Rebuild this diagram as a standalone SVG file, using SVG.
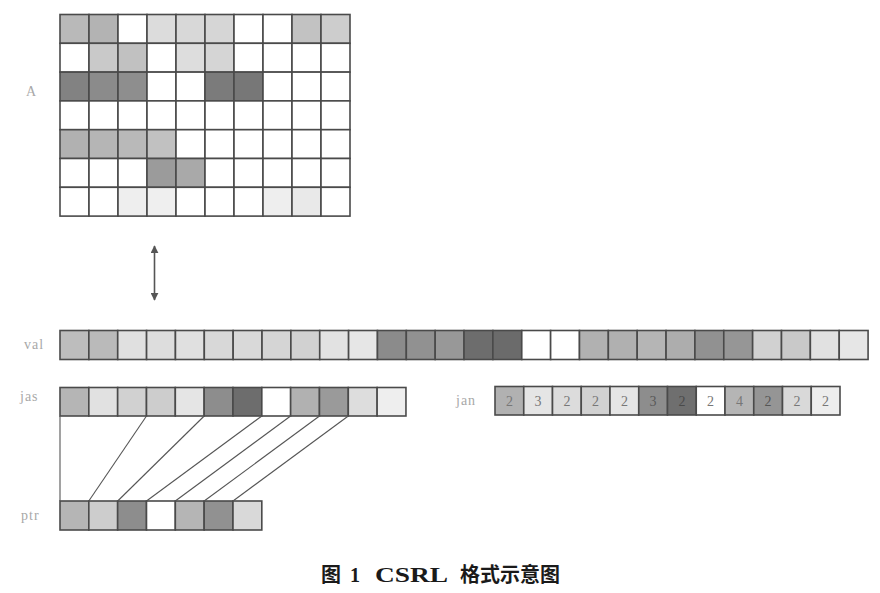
<svg xmlns="http://www.w3.org/2000/svg" width="880" height="593" viewBox="0 0 880 593">
<style>
.c{stroke:#4a4a4a;stroke-width:1.6}
.lbl{font-family:"Liberation Serif",serif;font-size:14px;fill:#a8a8a8;letter-spacing:1px}
.num{font-family:"Liberation Serif",serif;font-size:14px;fill:#777;text-anchor:middle}
.con{stroke:#555;stroke-width:1.1;fill:none}
.cap{font-family:"Liberation Serif","Noto Sans CJK SC",serif;font-size:20px;font-weight:bold;fill:#1a1a1a}
</style>
<defs>
<marker id="ah" viewBox="0 0 10 10" refX="9" refY="5" markerWidth="8" markerHeight="8" markerUnits="userSpaceOnUse" orient="auto-start-reverse">
<path d="M0,0 L10,5 L0,10 z" fill="#555"/>
</marker>
</defs>
<rect width="880" height="593" fill="#fff"/>

<g id="matrixA">
<text class="lbl" x="26" y="96" font-size="12">A</text>
<!-- row 0 -->
<rect class="c" x="60" y="14.5" width="29" height="28.8" fill="#b9b9b9"/>
<rect class="c" x="89" y="14.5" width="29" height="28.8" fill="#b3b3b3"/>
<rect class="c" x="118" y="14.5" width="29" height="28.8" fill="#fff"/>
<rect class="c" x="147" y="14.5" width="29" height="28.8" fill="#dcdcdc"/>
<rect class="c" x="176" y="14.5" width="29" height="28.8" fill="#d8d8d8"/>
<rect class="c" x="205" y="14.5" width="29" height="28.8" fill="#d6d6d6"/>
<rect class="c" x="234" y="14.5" width="29" height="28.8" fill="#fff"/>
<rect class="c" x="263" y="14.5" width="29" height="28.8" fill="#fff"/>
<rect class="c" x="292" y="14.5" width="29" height="28.8" fill="#c2c2c2"/>
<rect class="c" x="321" y="14.5" width="29" height="28.8" fill="#cdcdcd"/>
<!-- row 1 -->
<rect class="c" x="60" y="43.3" width="29" height="28.8" fill="#fff"/>
<rect class="c" x="89" y="43.3" width="29" height="28.8" fill="#c9c9c9"/>
<rect class="c" x="118" y="43.3" width="29" height="28.8" fill="#c1c1c1"/>
<rect class="c" x="147" y="43.3" width="29" height="28.8" fill="#fff"/>
<rect class="c" x="176" y="43.3" width="29" height="28.8" fill="#dddddd"/>
<rect class="c" x="205" y="43.3" width="29" height="28.8" fill="#d5d5d5"/>
<rect class="c" x="234" y="43.3" width="29" height="28.8" fill="#fff"/>
<rect class="c" x="263" y="43.3" width="29" height="28.8" fill="#fff"/>
<rect class="c" x="292" y="43.3" width="29" height="28.8" fill="#fff"/>
<rect class="c" x="321" y="43.3" width="29" height="28.8" fill="#fff"/>
<!-- row 2 -->
<rect class="c" x="60" y="72.1" width="29" height="28.8" fill="#828282"/>
<rect class="c" x="89" y="72.1" width="29" height="28.8" fill="#8b8b8b"/>
<rect class="c" x="118" y="72.1" width="29" height="28.8" fill="#8e8e8e"/>
<rect class="c" x="147" y="72.1" width="29" height="28.8" fill="#fff"/>
<rect class="c" x="176" y="72.1" width="29" height="28.8" fill="#fff"/>
<rect class="c" x="205" y="72.1" width="29" height="28.8" fill="#7b7b7b"/>
<rect class="c" x="234" y="72.1" width="29" height="28.8" fill="#777"/>
<rect class="c" x="263" y="72.1" width="29" height="28.8" fill="#fff"/>
<rect class="c" x="292" y="72.1" width="29" height="28.8" fill="#fff"/>
<rect class="c" x="321" y="72.1" width="29" height="28.8" fill="#fff"/>
<!-- row 3 -->
<rect class="c" x="60" y="100.9" width="29" height="28.8" fill="#fff"/>
<rect class="c" x="89" y="100.9" width="29" height="28.8" fill="#fff"/>
<rect class="c" x="118" y="100.9" width="29" height="28.8" fill="#fff"/>
<rect class="c" x="147" y="100.9" width="29" height="28.8" fill="#fff"/>
<rect class="c" x="176" y="100.9" width="29" height="28.8" fill="#fff"/>
<rect class="c" x="205" y="100.9" width="29" height="28.8" fill="#fff"/>
<rect class="c" x="234" y="100.9" width="29" height="28.8" fill="#fff"/>
<rect class="c" x="263" y="100.9" width="29" height="28.8" fill="#fff"/>
<rect class="c" x="292" y="100.9" width="29" height="28.8" fill="#fff"/>
<rect class="c" x="321" y="100.9" width="29" height="28.8" fill="#fff"/>
<!-- row 4 -->
<rect class="c" x="60" y="129.7" width="29" height="28.8" fill="#b1b1b1"/>
<rect class="c" x="89" y="129.7" width="29" height="28.8" fill="#b5b5b5"/>
<rect class="c" x="118" y="129.7" width="29" height="28.8" fill="#b9b9b9"/>
<rect class="c" x="147" y="129.7" width="29" height="28.8" fill="#c1c1c1"/>
<rect class="c" x="176" y="129.7" width="29" height="28.8" fill="#fff"/>
<rect class="c" x="205" y="129.7" width="29" height="28.8" fill="#fff"/>
<rect class="c" x="234" y="129.7" width="29" height="28.8" fill="#fff"/>
<rect class="c" x="263" y="129.7" width="29" height="28.8" fill="#fff"/>
<rect class="c" x="292" y="129.7" width="29" height="28.8" fill="#fff"/>
<rect class="c" x="321" y="129.7" width="29" height="28.8" fill="#fff"/>
<!-- row 5 -->
<rect class="c" x="60" y="158.5" width="29" height="28.8" fill="#fff"/>
<rect class="c" x="89" y="158.5" width="29" height="28.8" fill="#fff"/>
<rect class="c" x="118" y="158.5" width="29" height="28.8" fill="#fff"/>
<rect class="c" x="147" y="158.5" width="29" height="28.8" fill="#9b9b9b"/>
<rect class="c" x="176" y="158.5" width="29" height="28.8" fill="#a9a9a9"/>
<rect class="c" x="205" y="158.5" width="29" height="28.8" fill="#fff"/>
<rect class="c" x="234" y="158.5" width="29" height="28.8" fill="#fff"/>
<rect class="c" x="263" y="158.5" width="29" height="28.8" fill="#fff"/>
<rect class="c" x="292" y="158.5" width="29" height="28.8" fill="#fff"/>
<rect class="c" x="321" y="158.5" width="29" height="28.8" fill="#fff"/>
<!-- row 6 -->
<rect class="c" x="60" y="187.3" width="29" height="28.8" fill="#fff"/>
<rect class="c" x="89" y="187.3" width="29" height="28.8" fill="#fff"/>
<rect class="c" x="118" y="187.3" width="29" height="28.8" fill="#eeeeee"/>
<rect class="c" x="147" y="187.3" width="29" height="28.8" fill="#efefef"/>
<rect class="c" x="176" y="187.3" width="29" height="28.8" fill="#fff"/>
<rect class="c" x="205" y="187.3" width="29" height="28.8" fill="#fff"/>
<rect class="c" x="234" y="187.3" width="29" height="28.8" fill="#fff"/>
<rect class="c" x="263" y="187.3" width="29" height="28.8" fill="#eeeeee"/>
<rect class="c" x="292" y="187.3" width="29" height="28.8" fill="#e9e9e9"/>
<rect class="c" x="321" y="187.3" width="29" height="28.8" fill="#fff"/>
</g>

<g id="val">
<text class="lbl" x="24" y="349">val</text>
<rect class="c" x="60" y="330.5" width="28.86" height="29" fill="#bdbdbd"/>
<rect class="c" x="88.86" y="330.5" width="28.86" height="29" fill="#bababa"/>
<rect class="c" x="117.72" y="330.5" width="28.86" height="29" fill="#e0e0e0"/>
<rect class="c" x="146.58" y="330.5" width="28.86" height="29" fill="#dddddd"/>
<rect class="c" x="175.44" y="330.5" width="28.86" height="29" fill="#e0e0e0"/>
<rect class="c" x="204.3" y="330.5" width="28.86" height="29" fill="#d8d8d8"/>
<rect class="c" x="233.16" y="330.5" width="28.86" height="29" fill="#d9d9d9"/>
<rect class="c" x="262.02" y="330.5" width="28.86" height="29" fill="#d5d5d5"/>
<rect class="c" x="290.88" y="330.5" width="28.86" height="29" fill="#d1d1d1"/>
<rect class="c" x="319.74" y="330.5" width="28.86" height="29" fill="#e2e2e2"/>
<rect class="c" x="348.6" y="330.5" width="28.86" height="29" fill="#e6e6e6"/>
<rect class="c" x="377.46" y="330.5" width="28.86" height="29" fill="#8b8b8b"/>
<rect class="c" x="406.32" y="330.5" width="28.86" height="29" fill="#919191"/>
<rect class="c" x="435.18" y="330.5" width="28.86" height="29" fill="#989898"/>
<rect class="c" x="464.04" y="330.5" width="28.86" height="29" fill="#6d6d6d"/>
<rect class="c" x="492.9" y="330.5" width="28.86" height="29" fill="#6b6b6b"/>
<rect class="c" x="521.76" y="330.5" width="28.86" height="29" fill="#fff"/>
<rect class="c" x="550.62" y="330.5" width="28.86" height="29" fill="#fff"/>
<rect class="c" x="579.48" y="330.5" width="28.86" height="29" fill="#b1b1b1"/>
<rect class="c" x="608.34" y="330.5" width="28.86" height="29" fill="#b0b0b0"/>
<rect class="c" x="637.2" y="330.5" width="28.86" height="29" fill="#b5b5b5"/>
<rect class="c" x="666.06" y="330.5" width="28.86" height="29" fill="#adadad"/>
<rect class="c" x="694.92" y="330.5" width="28.86" height="29" fill="#919191"/>
<rect class="c" x="723.78" y="330.5" width="28.86" height="29" fill="#969696"/>
<rect class="c" x="752.64" y="330.5" width="28.86" height="29" fill="#d1d1d1"/>
<rect class="c" x="781.5" y="330.5" width="28.86" height="29" fill="#c9c9c9"/>
<rect class="c" x="810.36" y="330.5" width="28.86" height="29" fill="#e1e1e1"/>
<rect class="c" x="839.22" y="330.5" width="28.86" height="29" fill="#e6e6e6"/>
</g>

<g id="jas">
<text class="lbl" x="20" y="401">jas</text>
<rect class="c" x="60" y="387.5" width="28.83" height="28.5" fill="#b5b5b5"/>
<rect class="c" x="88.83" y="387.5" width="28.83" height="28.5" fill="#e1e1e1"/>
<rect class="c" x="117.66" y="387.5" width="28.83" height="28.5" fill="#d1d1d1"/>
<rect class="c" x="146.49" y="387.5" width="28.83" height="28.5" fill="#cdcdcd"/>
<rect class="c" x="175.32" y="387.5" width="28.83" height="28.5" fill="#e5e5e5"/>
<rect class="c" x="204.15" y="387.5" width="28.83" height="28.5" fill="#8d8d8d"/>
<rect class="c" x="232.98" y="387.5" width="28.83" height="28.5" fill="#6d6d6d"/>
<rect class="c" x="261.81" y="387.5" width="28.83" height="28.5" fill="#fff"/>
<rect class="c" x="290.64" y="387.5" width="28.83" height="28.5" fill="#b1b1b1"/>
<rect class="c" x="319.47" y="387.5" width="28.83" height="28.5" fill="#9a9a9a"/>
<rect class="c" x="348.3" y="387.5" width="28.83" height="28.5" fill="#dddddd"/>
<rect class="c" x="377.13" y="387.5" width="28.83" height="28.5" fill="#eeeeee"/>
</g>

<g id="jan">
<text class="lbl" x="456" y="405">jan</text>
<rect class="c" x="495" y="386.5" width="28.75" height="28.5" fill="#b1b1b1"/>
<rect class="c" x="523.75" y="386.5" width="28.75" height="28.5" fill="#e5e5e5"/>
<rect class="c" x="552.5" y="386.5" width="28.75" height="28.5" fill="#dcdcdc"/>
<rect class="c" x="581.25" y="386.5" width="28.75" height="28.5" fill="#d1d1d1"/>
<rect class="c" x="610" y="386.5" width="28.75" height="28.5" fill="#e5e5e5"/>
<rect class="c" x="638.75" y="386.5" width="28.75" height="28.5" fill="#8d8d8d"/>
<rect class="c" x="667.5" y="386.5" width="28.75" height="28.5" fill="#6f6f6f"/>
<rect class="c" x="696.25" y="386.5" width="28.75" height="28.5" fill="#fff"/>
<rect class="c" x="725" y="386.5" width="28.75" height="28.5" fill="#b5b5b5"/>
<rect class="c" x="753.75" y="386.5" width="28.75" height="28.5" fill="#959595"/>
<rect class="c" x="782.5" y="386.5" width="28.75" height="28.5" fill="#d9d9d9"/>
<rect class="c" x="811.25" y="386.5" width="28.75" height="28.5" fill="#ededed"/>
<text class="num" x="509.4" y="405.5" fill="#888">2</text>
<text class="num" x="538.1" y="405.5">3</text>
<text class="num" x="566.9" y="405.5">2</text>
<text class="num" x="595.6" y="405.5">2</text>
<text class="num" x="624.4" y="405.5">2</text>
<text class="num" x="653.1" y="405.5" style="fill:#5a5a5a">3</text>
<text class="num" x="681.9" y="405.5" style="fill:#4a4a4a">2</text>
<text class="num" x="710.6" y="405.5">2</text>
<text class="num" x="739.4" y="405.5">4</text>
<text class="num" x="768.1" y="405.5" style="fill:#555">2</text>
<text class="num" x="796.9" y="405.5">2</text>
<text class="num" x="825.6" y="405.5">2</text>
</g>

<g id="ptr">
<text class="lbl" x="21" y="520">ptr</text>
<rect class="c" x="60" y="501" width="28.83" height="29" fill="#b5b5b5"/>
<rect class="c" x="88.83" y="501" width="28.83" height="29" fill="#cdcdcd"/>
<rect class="c" x="117.66" y="501" width="28.83" height="29" fill="#8d8d8d"/>
<rect class="c" x="146.49" y="501" width="28.83" height="29" fill="#fff"/>
<rect class="c" x="175.32" y="501" width="28.83" height="29" fill="#b5b5b5"/>
<rect class="c" x="204.15" y="501" width="28.83" height="29" fill="#919191"/>
<rect class="c" x="232.98" y="501" width="28.83" height="29" fill="#d9d9d9"/>
</g>

<g id="connectors">
<line class="con" x1="154.5" y1="246" x2="154.5" y2="300" marker-start="url(#ah)" marker-end="url(#ah)" style="stroke-width:1.6"/>
<line class="con" x1="60" y1="416" x2="60" y2="501"/>
<line class="con" x1="146.5" y1="416" x2="88.8" y2="501"/>
<line class="con" x1="204.2" y1="416" x2="117.7" y2="501"/>
<line class="con" x1="261.8" y1="416" x2="146.5" y2="501"/>
<line class="con" x1="290.6" y1="416" x2="175.3" y2="501"/>
<line class="con" x1="319.5" y1="416" x2="204.2" y2="501"/>
<line class="con" x1="348.3" y1="416" x2="233" y2="501"/>
</g>

<text class="cap" y="582"><tspan x="321">图</tspan><tspan x="350">1</tspan><tspan x="375" textLength="73" lengthAdjust="spacingAndGlyphs">CSRL</tspan><tspan x="460" letter-spacing="0">格式示意图</tspan></text>
</svg>
